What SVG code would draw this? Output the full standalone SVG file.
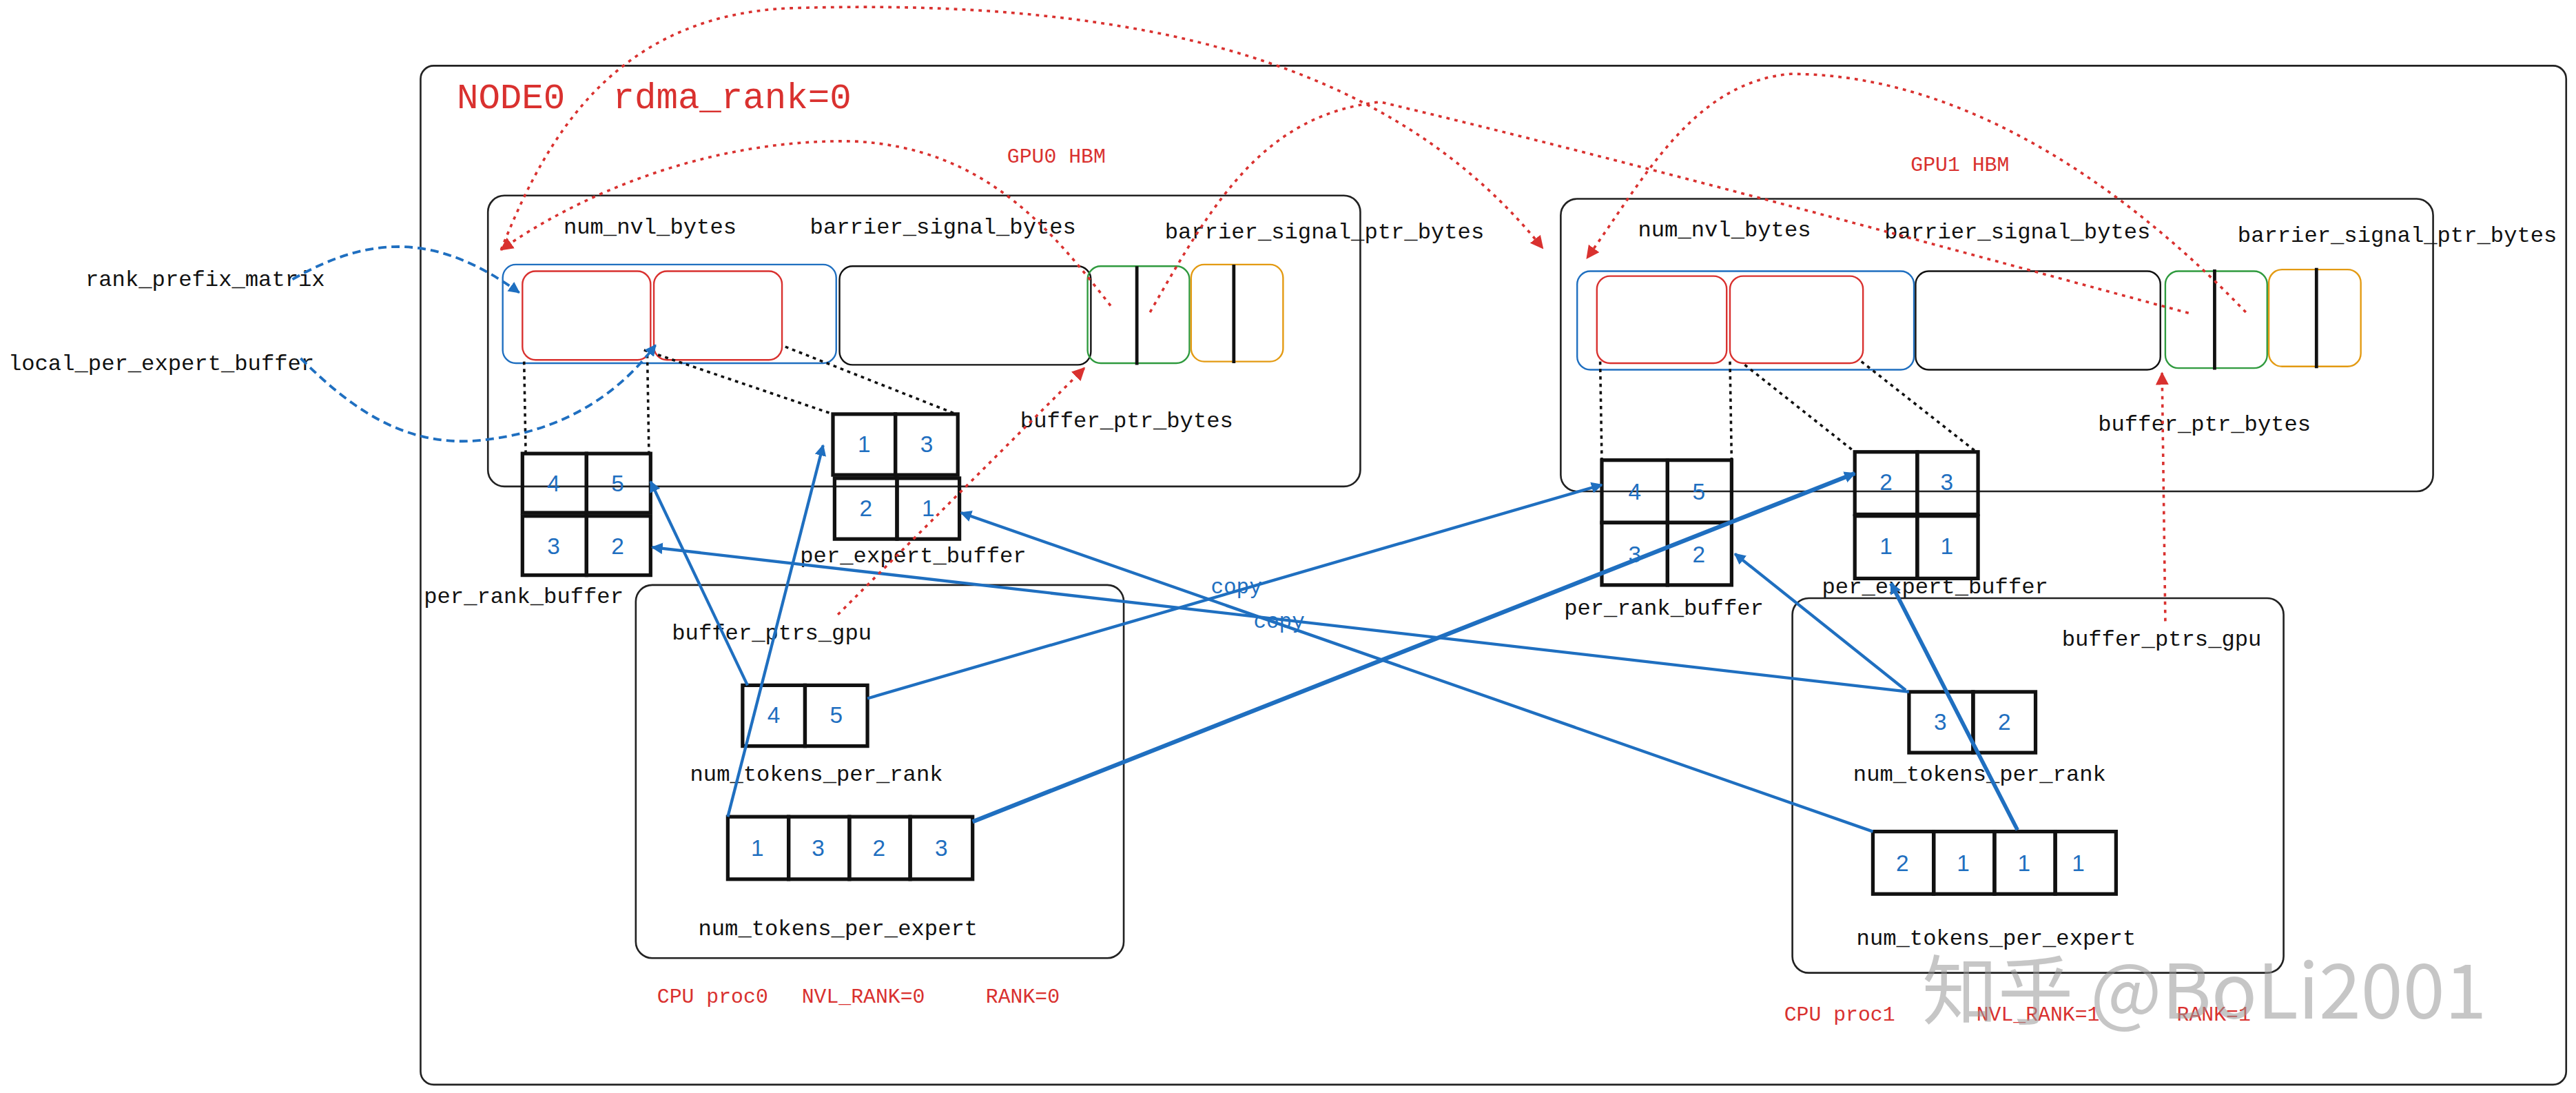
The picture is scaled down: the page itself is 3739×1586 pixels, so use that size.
<svg xmlns="http://www.w3.org/2000/svg" width="3739" height="1586" viewBox="0 0 3739 1586">
<defs>
<style>
text{font-family:"Liberation Mono","DejaVu Sans Mono",monospace}
.lbl{font-size:13.5px;fill:#111}
.red{fill:#d9312f}
.num{font-size:14px;fill:#1f6fc0;text-anchor:middle;font-family:"Liberation Sans",sans-serif}
.box{fill:none;stroke:#222;stroke-width:1.1}
.cell{fill:none;stroke:#111;stroke-width:2.2}
.blue{fill:none;stroke:#1f6fc0;stroke-width:1.8}
.bdash{fill:none;stroke:#1f6fc0;stroke-width:1.6;stroke-dasharray:5 3}
.rdot{fill:none;stroke:#d9312f;stroke-width:1.5;stroke-dasharray:2 3}
.kdot{fill:none;stroke:#111;stroke-width:1.5;stroke-dasharray:2 2.5}
</style>
<marker id="ab" viewBox="0 0 10 10" refX="9" refY="5" markerWidth="7" markerHeight="7" markerUnits="userSpaceOnUse" orient="auto"><path d="M0,0 L10,5 L0,10 z" fill="#1f6fc0"/></marker>
<marker id="ar" viewBox="0 0 10 10" refX="9" refY="5" markerWidth="8" markerHeight="8" markerUnits="userSpaceOnUse" orient="auto"><path d="M0,0 L10,5 L0,10 z" fill="#d9312f"/></marker>
</defs>
<rect width="3739" height="1586" fill="#fff"/>
<g transform="scale(2.3846)">
<g id="node0">
<rect class="box" x="256" y="40" width="1306" height="620" rx="8"/>
<text x="278" y="66" class="red" style="font-size:22px">NODE0</text>
<text x="373" y="66" class="red" style="font-size:22px">rdma_rank=0</text>
</g>
<g id="gpu0">
<text x="613" y="99" class="red" style="font-size:12.5px">GPU0 HBM</text>
<rect class="box" x="297" y="119" width="531" height="177" rx="10"/>
<text x="343" y="142" class="lbl">num_nvl_bytes</text>
<text x="493" y="142" class="lbl">barrier_signal_bytes</text>
<text x="709" y="145" class="lbl">barrier_signal_ptr_bytes</text>
<rect x="306" y="161" width="203" height="60" rx="8" fill="none" stroke="#1f6fc0" stroke-width="1"/>
<rect x="318" y="165" width="78" height="54" rx="8" fill="none" stroke="#d9312f" stroke-width="1"/>
<rect x="398" y="165" width="78" height="54" rx="8" fill="none" stroke="#d9312f" stroke-width="1"/>
<rect x="511" y="162" width="153" height="60" rx="8" fill="none" stroke="#111" stroke-width="1"/>
<rect x="662" y="162" width="62" height="59" rx="8" fill="none" stroke="#2f9a3e" stroke-width="1"/>
<line x1="692" y1="162" x2="692" y2="222" stroke="#111" stroke-width="2"/>
<rect x="725" y="161" width="56" height="59" rx="8" fill="none" stroke="#e39a12" stroke-width="1"/>
<line x1="751" y1="161" x2="751" y2="221" stroke="#111" stroke-width="2"/>
<text x="621" y="260" class="lbl">buffer_ptr_bytes</text>
</g>
<g id="per_rank_buffer0">
<rect class="cell" x="318" y="276" width="39" height="36"/><rect class="cell" x="357" y="276" width="39" height="36"/>
<rect class="cell" x="318" y="314" width="39" height="36"/><rect class="cell" x="357" y="314" width="39" height="36"/>
<text class="num" x="337" y="299">4</text><text class="num" x="376" y="299">5</text>
<text class="num" x="337" y="337">3</text><text class="num" x="376" y="337">2</text>
<text x="258" y="367" class="lbl">per_rank_buffer</text>
</g>
<g id="per_expert_buffer0">
<rect class="cell" x="507" y="252" width="38" height="37"/><rect class="cell" x="545" y="252" width="38" height="37"/>
<rect class="cell" x="508" y="291" width="38" height="37"/><rect class="cell" x="546" y="291" width="38" height="37"/>
<text class="num" x="526" y="275">1</text><text class="num" x="564" y="275">3</text>
<text class="num" x="527" y="314">2</text><text class="num" x="565" y="314">1</text>
<text x="487" y="342" class="lbl">per_expert_buffer</text>
</g>
<g id="cpu0">
<rect class="box" x="387" y="356" width="297" height="227" rx="10"/>
<text x="409" y="389" class="lbl">buffer_ptrs_gpu</text>
<rect class="cell" x="452" y="417" width="38" height="37"/><rect class="cell" x="490" y="417" width="38" height="37"/>
<text class="num" x="471" y="440">4</text><text class="num" x="509" y="440">5</text>
<text x="420" y="475" class="lbl">num_tokens_per_rank</text>
<rect class="cell" x="443" y="497" width="37" height="38"/><rect class="cell" x="480" y="497" width="37" height="38"/>
<rect class="cell" x="517" y="497" width="37" height="38"/><rect class="cell" x="554" y="497" width="38" height="38"/>
<text class="num" x="461" y="521">1</text><text class="num" x="498" y="521">3</text><text class="num" x="535" y="521">2</text><text class="num" x="573" y="521">3</text>
<text x="425" y="569" class="lbl">num_tokens_per_expert</text>
<text x="400" y="610" class="red" style="font-size:12.5px">CPU proc0</text>
<text x="488" y="610" class="red" style="font-size:12.5px">NVL_RANK=0</text>
<text x="600" y="610" class="red" style="font-size:12.5px">RANK=0</text>
</g>
<g id="gpu1">
<text x="1163" y="104" class="red" style="font-size:12.5px">GPU1 HBM</text>
<rect class="box" x="950" y="121" width="531" height="178" rx="10"/>
<text x="997" y="144" class="lbl">num_nvl_bytes</text>
<text x="1147" y="145" class="lbl">barrier_signal_bytes</text>
<text x="1362" y="147" class="lbl">barrier_signal_ptr_bytes</text>
<rect x="960" y="165" width="205" height="60" rx="8" fill="none" stroke="#1f6fc0" stroke-width="1"/>
<rect x="972" y="168" width="79" height="53" rx="8" fill="none" stroke="#d9312f" stroke-width="1"/>
<rect x="1053" y="168" width="81" height="53" rx="8" fill="none" stroke="#d9312f" stroke-width="1"/>
<rect x="1166" y="165" width="149" height="60" rx="8" fill="none" stroke="#111" stroke-width="1"/>
<rect x="1318" y="165" width="62" height="59" rx="8" fill="none" stroke="#2f9a3e" stroke-width="1"/>
<line x1="1348" y1="164" x2="1348" y2="225" stroke="#111" stroke-width="2"/>
<rect x="1381" y="164" width="56" height="59" rx="8" fill="none" stroke="#e39a12" stroke-width="1"/>
<line x1="1410" y1="163" x2="1410" y2="224" stroke="#111" stroke-width="2"/>
<text x="1277" y="262" class="lbl">buffer_ptr_bytes</text>
</g>
<g id="per_rank_buffer1">
<rect class="cell" x="975" y="280" width="40" height="38"/><rect class="cell" x="1015" y="280" width="39" height="38"/>
<rect class="cell" x="975" y="318" width="40" height="38"/><rect class="cell" x="1015" y="318" width="39" height="38"/>
<text class="num" x="995" y="304">4</text><text class="num" x="1034" y="304">5</text>
<text class="num" x="995" y="342">3</text><text class="num" x="1034" y="342">2</text>
<text x="952" y="374" class="lbl">per_rank_buffer</text>
</g>
<g id="per_expert_buffer1">
<rect class="cell" x="1129" y="275" width="38" height="38"/><rect class="cell" x="1167" y="275" width="37" height="38"/>
<rect class="cell" x="1129" y="314" width="38" height="38"/><rect class="cell" x="1167" y="314" width="37" height="38"/>
<text class="num" x="1148" y="298">2</text><text class="num" x="1185" y="298">3</text>
<text class="num" x="1148" y="337">1</text><text class="num" x="1185" y="337">1</text>
<text x="1109" y="361" class="lbl">per_expert_buffer</text>
</g>
<g id="cpu1">
<rect class="box" x="1091" y="364" width="299" height="228" rx="10"/>
<text x="1255" y="393" class="lbl">buffer_ptrs_gpu</text>
<rect class="cell" x="1162" y="421" width="39" height="37"/><rect class="cell" x="1201" y="421" width="38" height="37"/>
<text class="num" x="1181" y="444">3</text><text class="num" x="1220" y="444">2</text>
<text x="1128" y="475" class="lbl">num_tokens_per_rank</text>
<rect class="cell" x="1140" y="506" width="37" height="38"/><rect class="cell" x="1177" y="506" width="37" height="38"/>
<rect class="cell" x="1214" y="506" width="37" height="38"/><rect class="cell" x="1251" y="506" width="37" height="38"/>
<text class="num" x="1158" y="530">2</text><text class="num" x="1195" y="530">1</text><text class="num" x="1232" y="530">1</text><text class="num" x="1265" y="530">1</text>
<text x="1130" y="575" class="lbl">num_tokens_per_expert</text>
<text x="1086" y="621" class="red" style="font-size:12.5px">CPU proc1</text>
<text x="1203" y="621" class="red" style="font-size:12.5px">NVL_RANK=1</text>
<text x="1325" y="621" class="red" style="font-size:12.5px">RANK=1</text>
</g>
<g id="labels_left">
<text x="52" y="174" class="lbl">rank_prefix_matrix</text>
<text x="5" y="225" class="lbl">local_per_expert_buffer</text>
</g>
<g id="connectors">
<path class="kdot" d="M319,220 L320,276"/>
<path class="kdot" d="M394,216 L395,276"/>
<path class="kdot" d="M392,213 L507,252"/>
<path class="kdot" d="M478,211 L582,252"/>
<path class="kdot" d="M974,220 L975,280"/>
<path class="kdot" d="M1053,220 L1054,280"/>
<path class="kdot" d="M1062,222 L1129,275"/>
<path class="kdot" d="M1133,220 L1203,275"/>
<path class="bdash" d="M178,170 C230,140 270,145 316,178" marker-end="url(#ab)"/>
<path class="bdash" d="M183,218 C215,250 250,275 300,267 C350,260 380,235 399,210" marker-end="url(#ab)"/>
<path class="blue" d="M455,417 L396,293" marker-end="url(#ab)"/>
<path class="blue" d="M443,497 L501,271" marker-end="url(#ab)"/>
<path class="blue" d="M528,425 L975,295" marker-end="url(#ab)"/>
<path class="blue" style="stroke-width:2.6" d="M592,500 L1129,288" marker-end="url(#ab)"/>
<path class="blue" d="M1162,421 L397,333" marker-end="url(#ab)"/>
<path class="blue" d="M1160,420 L1056,337" marker-end="url(#ab)"/>
<path class="blue" d="M1140,506 L585,312" marker-end="url(#ab)"/>
<path class="blue" style="stroke-width:2.4" d="M1228,505 L1151,355" marker-end="url(#ab)"/>
<text x="737" y="361" style="font-size:13px;fill:#1f6fc0">copy</text>
<text x="763" y="382" style="font-size:13px;fill:#1f6fc0">copy</text>
<path class="rdot" d="M676,186 C640,140 600,90 520,86 C430,84 350,120 305,152" marker-end="url(#ar)"/>
<path class="rdot" d="M305,152 C330,90 370,10 480,5 C700,-2 850,40 939,151" marker-end="url(#ar)"/>
<path class="rdot" d="M700,190 C740,120 770,70 840,62 C1000,100 1200,155 1334,191"/>
<path class="rdot" d="M1367,190 C1300,120 1200,45 1090,45 C1030,50 1000,110 966,157" marker-end="url(#ar)"/>
<path class="rdot" d="M510,374 L660,224" marker-end="url(#ar)"/>
<path class="rdot" d="M1318,378 L1316,227" marker-end="url(#ar)"/>
</g>
<text x="1170" y="620" style="font-size:46px;fill:#999;opacity:0.55;font-family:'Noto Sans CJK SC','Liberation Sans',sans-serif">知乎 @BoLi2001</text>
</g>
</svg>
